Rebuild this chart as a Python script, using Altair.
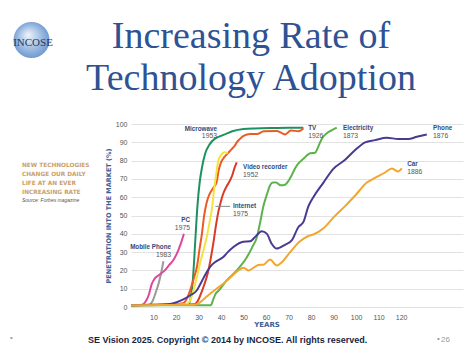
import altair as alt
import pandas as pd

# ---------------- data ----------------
series = ["Mobile Phone", "PC", "Microwave", "TV", "Video recorder",
          "Internet", "Electricity", "Phone", "Car"]
series_colors = ["#9a9a9a", "#e0479a", "#1e9160", "#ee5a24", "#d93a26",
                 "#f2e440", "#5db34a", "#4a3a8f", "#f2a630"]

mobile_years = [0, 8, 9.5, 11, 12.3, 13.3, 14.4]
mobile_pct = [1, 1.2, 3, 8, 13, 18, 25]

pc_years = [0, 5, 6.5, 8, 9.2, 10.5, 12.5, 15, 17, 19, 21, 22.5, 23.5]
pc_pct = [1, 1.3, 3, 7, 12.5, 15.5, 17.5, 20, 23, 26, 31, 36, 40]

microwave_years = [0, 25.5, 26.5, 27.5, 28.5, 29.5, 30.5, 31.5, 33, 35, 37.3,
                   40, 42, 45, 50, 55, 65, 76.6]
microwave_pct = [1, 1.2, 5, 15, 35, 55, 68, 76, 84, 89, 92,
                 93.5, 94.5, 96, 97.3, 97.6, 97.8, 98]

tv_years = [0, 20, 23, 25, 26.5, 28, 29.3, 30.5, 31.5, 32.5, 33.6, 35, 36.5,
            38, 39, 40, 41.5, 43, 44.5, 46, 47, 48.5, 50, 53, 56, 59, 64.7,
            67, 68.5, 71, 74.4, 76.6]
tv_pct = [1, 1.5, 2, 5, 10, 16, 22, 32, 40, 50, 57, 62, 65,
          68, 75, 79, 82, 84, 86, 88, 90, 92, 93.5, 94.5, 94.5, 96, 96.2,
          95, 94.3, 96.5, 96, 97.5]

video_years = [0, 28, 29.5, 31, 32.5, 34, 35.5, 36.6, 37.8, 38.8, 40, 41,
               42.5, 43.5, 45, 46, 47]
video_pct = [1, 1.5, 3, 7, 12, 18, 27, 35, 45, 52, 58, 62,
             66, 68, 72, 76, 79]

internet_years = [0, 24, 26, 27.5, 29, 30.7, 32, 33.6, 35, 36, 37, 38, 38.8,
                  40, 41.5, 43]
internet_pct = [1, 1.5, 3, 8, 15, 24, 30, 38, 47, 54, 65, 74, 80,
                83, 84.5, 84]

electricity_years = [0, 35.5, 36.5, 37.5, 39, 42.5, 47, 51.4, 54, 55.9, 57.5,
                     58.8, 60.5, 61.8, 63, 64.5, 66.5, 68.4, 70, 71.4, 73,
                     74.4, 76.6, 79.6, 81.8, 83.2, 84.8, 87, 89.9, 91.4]
electricity_pct = [1, 1, 4, 7, 9, 14.5, 20, 27, 33, 38, 47,
                   55, 62, 66.5, 68, 68, 66.5, 66.8, 69, 72, 76,
                   78.5, 81, 84, 84.3, 87.6, 92, 95, 97, 98]

phone_years = [0, 10, 16, 20, 23, 26.2, 29.2, 31, 33.6, 35.5, 37.3, 41, 43,
               45.5, 49.9, 52.9, 55.1, 58.1, 60.3, 62.5, 64.7, 68.4, 71.4,
               74.4, 76.6, 78.8, 81, 85.5, 89.9, 95, 99.6, 104, 108.4, 113.6,
               118.8, 123.2, 127, 131.4]
phone_pct = [1, 1.2, 1.5, 2.5, 4, 6.3, 9, 13, 19, 22.5, 24.5, 27.3, 30,
             32.8, 35.7, 35.9, 38.2, 41.4, 40.1, 34.6, 31.9, 34, 36.4,
             43.7, 46.5, 55, 60, 68, 75.5, 80.3, 85.8, 90, 91.2, 92.5,
             91.8, 91.8, 93, 94.3]

car_years = [0, 28, 30.7, 33, 35.1, 38, 41, 44, 47.7, 50, 52.1, 54.5, 56.6,
             58.8, 61.8, 64.7, 67, 70.7, 75.1, 78.8, 81, 85.5, 90, 95, 100,
             104.8, 108.4, 112.9, 115.9, 117.3, 118.6, 120.3]
car_pct = [1, 1.2, 2.5, 5, 7.2, 10, 12.7, 16, 20, 21.5, 20, 21.5, 23,
           23.1, 26, 22.7, 24.5, 30, 35.9, 38.8, 39.6, 43, 49, 55, 61.5,
           68, 70.5, 73.5, 75.7, 74.8, 74, 75.7]

year_lists = [mobile_years, pc_years, microwave_years, tv_years, video_years,
              internet_years, electricity_years, phone_years, car_years]
pct_lists = [mobile_pct, pc_pct, microwave_pct, tv_pct, video_pct,
             internet_pct, electricity_pct, phone_pct, car_pct]

y_ticks = [0, 10, 20, 30, 40, 50, 60, 70, 80, 90, 100]
x_ticks = [10, 20, 30, 40, 50, 60, 70, 80, 90, 100, 110, 120]

# series labels: name, year of introduction
label_names = ["Microwave", "TV", "Electricity", "Phone", "Car",
               "Video recorder", "Internet", "PC", "Mobile Phone"]
label_years = ["1953", "1926", "1873", "1876", "1886",
               "1952", "1975", "1975", "1983"]

rows = []
for name, ys, ps in zip(series, year_lists, pct_lists):
    for i, (yr, p) in enumerate(zip(ys, ps)):
        rows.append({"series": name, "year": yr, "pct": p, "i": i})
df = pd.DataFrame(rows)

# ---------------- annotation placement (data units) ----------------
ann_pos = {
    "Microwave": (38.2, 97.3, 93.4, "right"),
    "TV": (78.7, 97.8, 93.7, "left"),
    "Electricity": (94.2, 97.8, 93.7, "left"),
    "Phone": (134.2, 97.8, 93.7, "left"),
    "Car": (122.7, 78.1, 73.7, "left"),
    "Video recorder": (49.8, 76.4, 72.0, "left"),
    "Internet": (45.3, 55.1, 51.0, "left"),
    "PC": (26.2, 47.4, 43.0, "right"),
    "Mobile Phone": (17.8, 32.6, 28.5, "right"),
}
ann_rows = []
for nm, yr in zip(label_names, label_years):
    x, y1, y2, al = ann_pos[nm]
    ann_rows.append({"t": nm, "year": x, "pct": y1, "al": al, "kind": "name"})
    ann_rows.append({"t": yr, "year": x, "pct": y2, "al": al, "kind": "year"})
ann = pd.DataFrame(ann_rows)

W, H = 332, 183
xscale = alt.Scale(domain=[0, 147.5], nice=False, zero=False)
yscale = alt.Scale(domain=[0, 100], nice=False)

x_axis = alt.Axis(values=x_ticks, grid=False, domain=False, ticks=False,
                  labelFontSize=7, labelColor="#555555", labelPadding=6,
                  labelOverlap=False, labelFlush=False,
                  labelFont="Liberation Sans", title=None)
y_axis = alt.Axis(values=y_ticks, grid=True, gridColor="#e2e2e2",
                  domain=False, ticks=False, labelFontSize=7,
                  labelColor="#555555", labelPadding=4,
                  labelOverlap=False, labelFlush=False,
                  labelFont="Liberation Sans",
                  title="PENETRATION INTO THE MARKET (%)",
                  titleFont="DejaVu Sans", titleFontSize=6.5,
                  titleFontWeight="bold", titleColor="#3b6096",
                  titleX=-23, titleY=91.5, titleAngle=-90,
                  titleAlign="center", titleBaseline="middle")

X = alt.X("year:Q", scale=xscale, axis=x_axis)
Y = alt.Y("pct:Q", scale=yscale, axis=y_axis)

lines = alt.Chart(df).mark_line(strokeWidth=2, interpolate="monotone").encode(
    x=X, y=Y,
    color=alt.Color("series:N", scale=alt.Scale(domain=series, range=series_colors),
                    legend=None),
    order="i:Q",
)

def ann_layer(kind, al, weight, color, size):
    return alt.Chart(ann).transform_filter(
        (alt.datum.kind == kind) & (alt.datum.al == al)
    ).mark_text(align=al, baseline="middle", fontSize=size, fontWeight=weight,
                color=color, font="Liberation Sans").encode(
        x=X, y=Y, text="t:N")

ann_layers = [
    ann_layer("name", "left", "bold", "#2d4b7c", 6.3),
    ann_layer("name", "right", "bold", "#2d4b7c", 6.3),
    ann_layer("year", "left", "normal", "#555555", 6.8),
    ann_layer("year", "right", "normal", "#555555", 6.8),
]

leader_df = pd.DataFrame({"year": [37.5], "year2": [44.0], "pct": [55.0]})
leader = alt.Chart(leader_df).mark_rule(color="#888888", strokeWidth=1).encode(
    x=X, x2="year2:Q", y=Y)

def txt(s, x, y, size, color, weight="normal", font="Liberation Sans",
        align="left", baseline="middle", style="normal"):
    return alt.Chart(df).transform_filter("datum.i == 0 && datum.series == 'PC'").mark_text(
        text=s, fontSize=size, color=color, fontWeight=weight, font=font,
        align=align, baseline=baseline, fontStyle=style).encode(
        x=alt.value(x), y=alt.value(y))

title_color = "#2e5293"
deco = [
    txt("Increasing Rate of", 120, -76, 38, title_color, font="Liberation Serif",
        align="center", baseline="alphabetic"),
    txt("Technology Adoption", 120, -34, 38, title_color, font="Liberation Serif",
        align="center", baseline="alphabetic"),
    txt("YEARS", 136, 201, 7, "#3b6096", weight="bold", font="DejaVu Sans",
        align="center"),
    txt("SE Vision 2025. Copyright \u00a9 2014 by INCOSE. All rights reserved.",
        -43, 216, 9, "#1a1f3c", weight="bold"),
    txt("\u2022", 306, 215, 8, "#9a9a9a"),
    txt("26", 310, 216, 8, "#9a9a9a"),
    txt("\u2022", -121, 214, 8, "#9a9a9a"),
    txt("NEW TECHNOLOGIES", -109, 41, 5.8, "#c8a06a", weight="bold", font="DejaVu Sans"),
    txt("CHANGE OUR DAILY", -109, 50, 5.8, "#c8a06a", weight="bold", font="DejaVu Sans"),
    txt("LIFE AT AN EVER", -109, 59, 5.8, "#c8a06a", weight="bold", font="DejaVu Sans"),
    txt("INCREASING RATE", -109, 68, 5.8, "#c8a06a", weight="bold", font="DejaVu Sans"),
    txt("Source: Forbes magazine", -109, 76, 5, "#555555", style="italic"),
]

logo_circle = alt.Chart(df).transform_filter("datum.i == 0 && datum.series == 'PC'").mark_point(
    shape="circle", filled=True, size=1300, opacity=1,
    color=alt.RadialGradient(gradient="radial",
                             stops=[alt.GradientStop(offset=0, color="#eef4fb"),
                                    alt.GradientStop(offset=1, color="#5b8ccc")],
                             x1=0.4, y1=0.35, r1=0.0, x2=0.5, y2=0.5, r2=0.6)
).encode(x=alt.value(-99.5), y=alt.value(-84))
logo_text = txt("INCOSE", -98, -81, 11, "#1f3864", font="Liberation Serif",
                align="center")

chart = alt.layer(lines, leader, *ann_layers, logo_circle, logo_text, *deco).properties(
    width=W, height=H,
    autosize=alt.AutoSizeParams(type="none"),
    padding={"left": 123, "top": 116, "right": 3, "bottom": 40},
).configure_view(stroke=None)

chart.save("out.html", embed_options={"renderer": "svg", "actions": False})
